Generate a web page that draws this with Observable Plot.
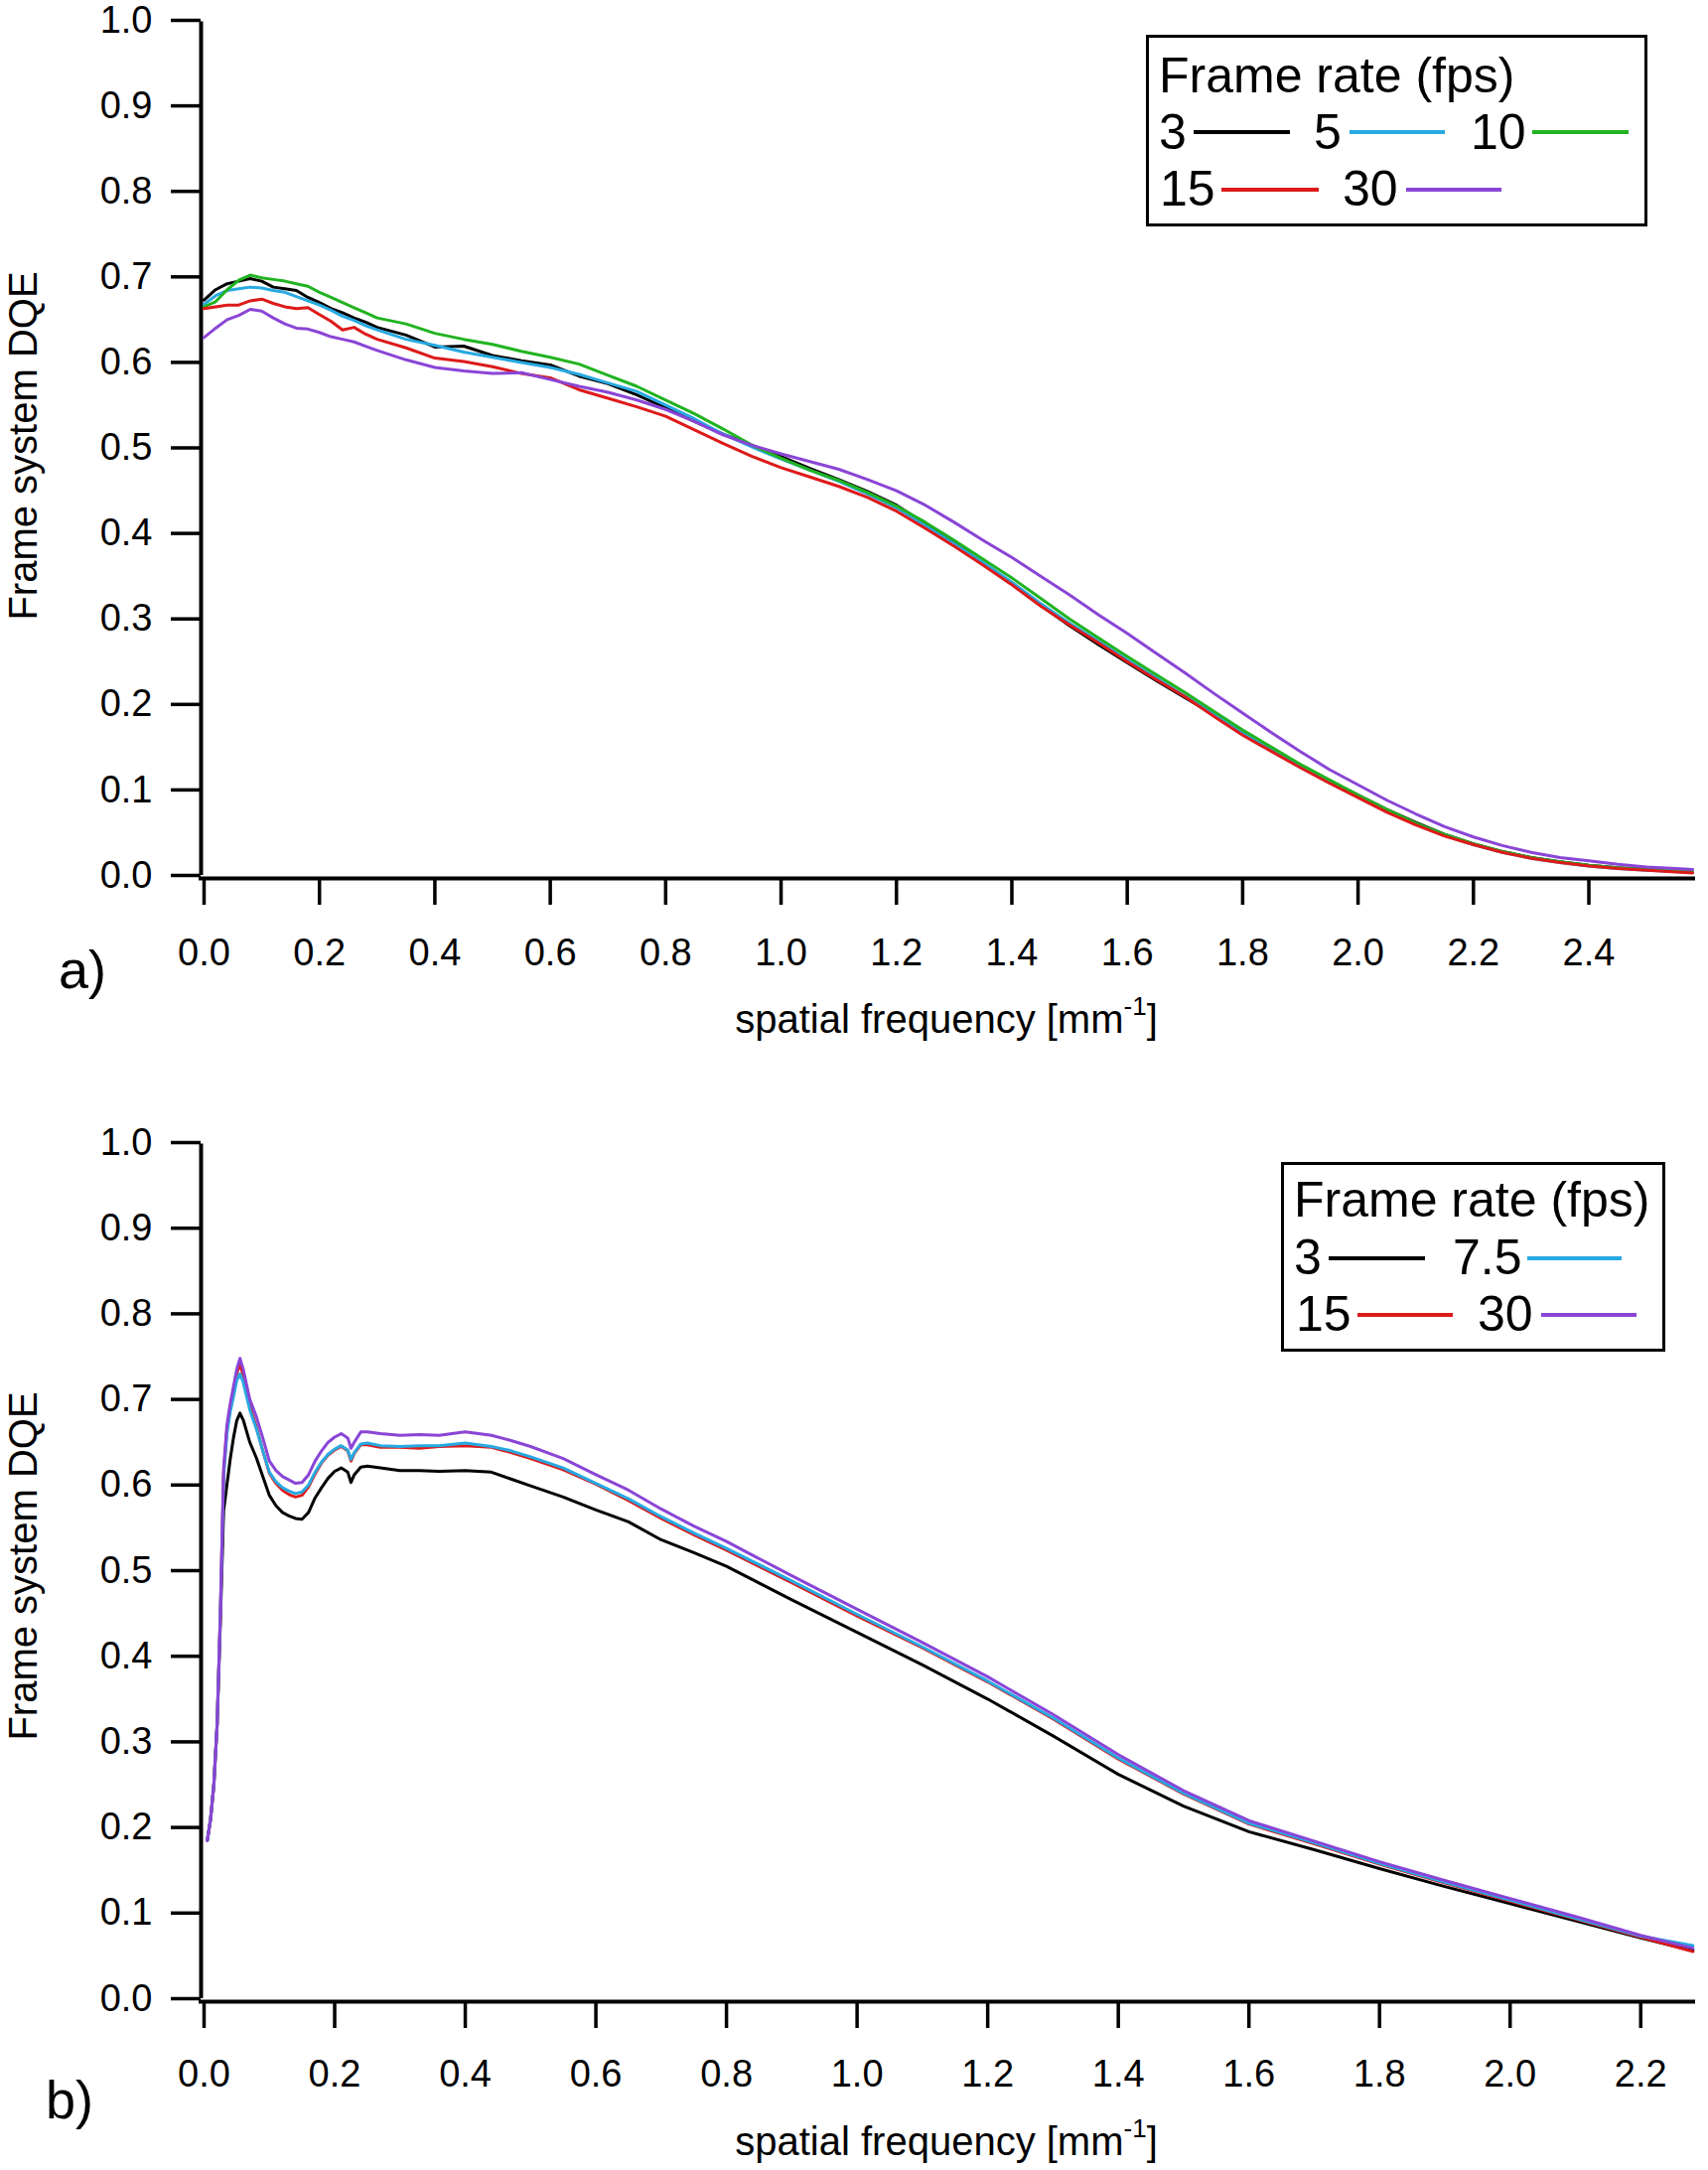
<!DOCTYPE html>
<html>
<head>
<meta charset="utf-8">
<script src="https://cdn.jsdelivr.net/npm/d3@7"></script>
<script src="https://cdn.jsdelivr.net/npm/@observablehq/plot@0.6"></script>
<style>
  body { margin: 0; background: #fff; }
  #page { position: relative; width: 1720px; height: 2185px; background: #fff;
          font-family: "Liberation Sans", Arial, Helvetica, sans-serif; color: #000; }
  .panel { position: relative; width: 1720px; }
  .panel svg { display: block; }
  .tag, .leg-text { position: absolute; line-height: 1; white-space: nowrap; }
  .leg-box { position: absolute; border: 3.5px solid #000; box-sizing: border-box; background: #fff; }
  .leg-line { position: absolute; height: 4px; }
</style>
</head>
<body>
<div id="page"></div>
<script>
// ---------- data: frame system DQE vs spatial frequency ----------

// panel a) frame rates 3, 5, 10, 15, 30 fps
const freqA = [0, 0.02, 0.04, 0.06, 0.08, 0.10, 0.12, 0.14, 0.16, 0.18,
  0.20, 0.22, 0.24, 0.26, 0.28, 0.30,
  0.35, 0.40, 0.45, 0.50, 0.55, 0.60, 0.65, 0.70, 0.75, 0.80,
  0.85, 0.90, 0.95, 1.00, 1.05, 1.10, 1.15, 1.20, 1.25, 1.30,
  1.35, 1.40, 1.45, 1.50, 1.55, 1.60, 1.65, 1.70, 1.75, 1.80,
  1.85, 1.90, 1.95, 2.00, 2.05, 2.10, 2.15, 2.20, 2.25, 2.30,
  2.35, 2.40, 2.45, 2.50, 2.55, 2.58];

const dqeA_3 = [0.673, 0.685, 0.692, 0.695, 0.698, 0.695, 0.688, 0.686, 0.684, 0.676,
  0.670, 0.663, 0.658, 0.652, 0.647, 0.641,
  0.632, 0.618, 0.619, 0.608, 0.602, 0.597, 0.584, 0.575, 0.562, 0.547,
  0.531, 0.516, 0.503, 0.490, 0.476, 0.463, 0.449, 0.433, 0.411, 0.389,
  0.365, 0.341, 0.316, 0.292, 0.270, 0.249, 0.228, 0.208, 0.188, 0.167,
  0.148, 0.129, 0.111, 0.094, 0.077, 0.062, 0.048, 0.037, 0.028, 0.021,
  0.016, 0.012, 0.009, 0.007, 0.005, 0.004];

const dqeA_5 = [0.668, 0.678, 0.684, 0.686, 0.688, 0.687, 0.684, 0.682, 0.677, 0.672,
  0.667, 0.661, 0.654, 0.649, 0.643, 0.638,
  0.627, 0.620, 0.612, 0.606, 0.600, 0.594, 0.586, 0.576, 0.566, 0.550,
  0.534, 0.516, 0.501, 0.487, 0.474, 0.461, 0.446, 0.430, 0.409, 0.388,
  0.366, 0.343, 0.318, 0.295, 0.274, 0.252, 0.231, 0.210, 0.189, 0.167,
  0.148, 0.129, 0.110, 0.093, 0.076, 0.060, 0.047, 0.036, 0.027, 0.020,
  0.015, 0.011, 0.008, 0.006, 0.005, 0.004];

const dqeA_10 = [0.665, 0.671, 0.685, 0.696, 0.702, 0.699, 0.697, 0.695, 0.692, 0.689,
  0.682, 0.676, 0.670, 0.664, 0.658, 0.652,
  0.645, 0.634, 0.627, 0.621, 0.613, 0.606, 0.598, 0.585, 0.572, 0.556,
  0.540, 0.522, 0.503, 0.488, 0.474, 0.462, 0.448, 0.432, 0.413, 0.392,
  0.370, 0.348, 0.324, 0.300, 0.278, 0.256, 0.235, 0.214, 0.192, 0.170,
  0.150, 0.130, 0.112, 0.094, 0.077, 0.061, 0.048, 0.037, 0.028, 0.021,
  0.016, 0.012, 0.009, 0.007, 0.005, 0.004];

const dqeA_15 = [0.663, 0.665, 0.667, 0.667, 0.672, 0.674, 0.669, 0.665, 0.663, 0.664,
  0.656, 0.648, 0.638, 0.641, 0.633, 0.627,
  0.617, 0.605, 0.601, 0.595, 0.587, 0.582, 0.568, 0.558, 0.548, 0.537,
  0.521, 0.505, 0.490, 0.477, 0.466, 0.455, 0.442, 0.426, 0.406, 0.385,
  0.363, 0.340, 0.315, 0.293, 0.272, 0.250, 0.229, 0.209, 0.186, 0.164,
  0.145, 0.126, 0.108, 0.091, 0.074, 0.059, 0.046, 0.036, 0.027, 0.020,
  0.015, 0.011, 0.008, 0.006, 0.004, 0.003];

const dqeA_30 = [0.629, 0.640, 0.650, 0.655, 0.662, 0.660, 0.652, 0.645, 0.640, 0.639,
  0.635, 0.630, 0.627, 0.624, 0.619, 0.614,
  0.603, 0.594, 0.590, 0.587, 0.588, 0.580, 0.572, 0.565, 0.556, 0.545,
  0.531, 0.515, 0.503, 0.493, 0.484, 0.475, 0.463, 0.450, 0.433, 0.413,
  0.392, 0.372, 0.350, 0.328, 0.305, 0.283, 0.260, 0.237, 0.213, 0.190,
  0.167, 0.145, 0.124, 0.106, 0.088, 0.072, 0.057, 0.045, 0.035, 0.027,
  0.021, 0.017, 0.013, 0.010, 0.008, 0.007];

// panel b) frame rates 3, 7.5, 15, 30 fps
const freqB = [0.005, 0.01, 0.015, 0.02, 0.025, 0.03, 0.035, 0.04, 0.045, 0.05,
  0.055, 0.06, 0.07, 0.08, 0.09, 0.10, 0.11, 0.12, 0.13, 0.14,
  0.15, 0.16, 0.17, 0.18, 0.19, 0.20, 0.21, 0.22, 0.225, 0.23,
  0.24, 0.25, 0.27, 0.30, 0.33, 0.36, 0.40, 0.44, 0.47, 0.50,
  0.55, 0.60, 0.65, 0.70, 0.75, 0.80, 0.90, 1.00, 1.10, 1.20,
  1.30, 1.40, 1.50, 1.60, 1.70, 1.80, 1.90, 2.00, 2.10, 2.20,
  2.28];

const dqeB_3 = [0.185, 0.21, 0.25, 0.32, 0.44, 0.57, 0.60, 0.63, 0.655, 0.675,
  0.684, 0.676, 0.650, 0.632, 0.610, 0.588, 0.576, 0.568, 0.564, 0.561,
  0.560, 0.568, 0.585, 0.597, 0.608, 0.616, 0.620, 0.615, 0.603, 0.612,
  0.621, 0.622, 0.620, 0.617, 0.617, 0.616, 0.617, 0.615, 0.607, 0.599,
  0.586, 0.571, 0.557, 0.536, 0.521, 0.505, 0.466, 0.428, 0.390, 0.350,
  0.307, 0.262, 0.225, 0.195, 0.174, 0.152, 0.131, 0.111, 0.091, 0.071,
  0.056];

const dqeB_7_5 = [0.185, 0.21, 0.25, 0.32, 0.45, 0.61, 0.66, 0.685, 0.703, 0.722,
  0.730, 0.720, 0.688, 0.666, 0.640, 0.615, 0.604, 0.597, 0.593, 0.590,
  0.592, 0.600, 0.615, 0.627, 0.636, 0.642, 0.646, 0.641, 0.630, 0.638,
  0.648, 0.649, 0.646, 0.645, 0.646, 0.646, 0.649, 0.645, 0.640, 0.633,
  0.620, 0.602, 0.584, 0.563, 0.544, 0.526, 0.488, 0.449, 0.411, 0.371,
  0.328, 0.281, 0.240, 0.205, 0.182, 0.158, 0.136, 0.115, 0.094, 0.073,
  0.062];

const dqeB_15 = [0.185, 0.21, 0.25, 0.32, 0.45, 0.615, 0.665, 0.69, 0.71, 0.73,
  0.742, 0.728, 0.692, 0.668, 0.640, 0.614, 0.602, 0.594, 0.589, 0.586,
  0.588, 0.598, 0.613, 0.626, 0.635, 0.641, 0.645, 0.640, 0.628, 0.637,
  0.647, 0.647, 0.644, 0.644, 0.643, 0.645, 0.646, 0.644, 0.638, 0.631,
  0.618, 0.601, 0.582, 0.561, 0.542, 0.524, 0.486, 0.447, 0.410, 0.370,
  0.327, 0.280, 0.239, 0.204, 0.181, 0.157, 0.135, 0.114, 0.093, 0.072,
  0.055];

const dqeB_30 = [0.185, 0.21, 0.25, 0.32, 0.45, 0.62, 0.67, 0.695, 0.715, 0.735,
  0.748, 0.735, 0.700, 0.680, 0.655, 0.628, 0.617, 0.610, 0.606, 0.602,
  0.603, 0.612, 0.628, 0.640, 0.650, 0.656, 0.660, 0.655, 0.643, 0.650,
  0.662, 0.662, 0.660, 0.658, 0.659, 0.658, 0.662, 0.658, 0.652, 0.645,
  0.631, 0.612, 0.594, 0.572, 0.552, 0.534, 0.494, 0.455, 0.416, 0.376,
  0.332, 0.285, 0.243, 0.208, 0.184, 0.160, 0.138, 0.117, 0.096, 0.074,
  0.059];

// tick values
const yTicks = [0, 0.1, 0.2, 0.3, 0.4, 0.5, 0.6, 0.7, 0.8, 0.9, 1.0];
const xTicksA = [0, 0.2, 0.4, 0.6, 0.8, 1.0, 1.2, 1.4, 1.6, 1.8, 2.0, 2.2, 2.4];
const xTicksB = [0, 0.2, 0.4, 0.6, 0.8, 1.0, 1.2, 1.4, 1.6, 1.8, 2.0, 2.2];

// frame-rate labels per panel
const ratesA = ["3", "5", "10", "15", "30"];
const ratesB = ["3", "7.5", "15", "30"];

// ---------- styling ----------
const FONT = '"Liberation Sans", Arial, Helvetica, sans-serif';
const rateColor = {"3": "#000000", "5": "#27a9e1", "7.5": "#27a9e1", "10": "#21b321", "15": "#dd1a1a", "30": "#8a45d6"};

const panelA = {
  rates: ratesA, values: [dqeA_3, dqeA_5, dqeA_10, dqeA_15, dqeA_30], freq: freqA,
  xMax: 2.585, xTicks: xTicksA, height: 1090, marginTop: 20, marginBottom: 209, labelPad: 34,
  xTitleBaseline: 1040, yTitleCenter: 449,
  tag: {text: "a)", left: 59, baseline: 995},
  legend: {
    box: {left: 1154, top: 35, width: 505, height: 193},
    title: {left: 1167, baseline: 93},
    items: [
      {left: 1167, baseline: 150, line: [1202, 1299], y: 133},
      {left: 1323, baseline: 150, line: [1359, 1455], y: 133},
      {left: 1481, baseline: 150, line: [1543, 1640], y: 133},
      {left: 1168, baseline: 207, line: [1230, 1328], y: 191},
      {left: 1352, baseline: 207, line: [1416, 1512], y: 191}
    ]
  }
};

const panelB = {
  rates: ratesB, values: [dqeB_3, dqeB_15, dqeB_7_5, dqeB_30], order: ["3", "15", "7.5", "30"], freq: freqB,
  xMax: 2.284, xTicks: xTicksB, height: 1095, marginTop: 60, marginBottom: 173, labelPad: 32,
  xTitleBaseline: 1080, yTitleCenter: 487,
  tag: {text: "b)", left: 46, baseline: 1043},
  legend: {
    box: {left: 1290, top: 80, width: 387, height: 191},
    title: {left: 1303, baseline: 135},
    items: [
      {left: 1303, baseline: 193, line: [1338, 1435], y: 177},
      {left: 1463, baseline: 193, line: [1538, 1633], y: 177},
      {left: 1305, baseline: 250, line: [1367, 1463], y: 234},
      {left: 1488, baseline: 250, line: [1552, 1648], y: 234}
    ]
  }
};

function buildPanel(cfg) {
  const order = cfg.order || cfg.rates;
  const valuesByRate = {};
  order.forEach((r, i) => { valuesByRate[r] = cfg.values[i]; });
  const rows = order.flatMap(rate => cfg.freq.map((f, i) => ({f, v: valuesByRate[rate][i], rate})));
  const fmt = d3.format(".1f");

  const svg = Plot.plot({
    width: 1720,
    height: cfg.height,
    marginLeft: 205,
    marginRight: 13,
    marginTop: cfg.marginTop,
    marginBottom: cfg.marginBottom,
    style: {fontFamily: FONT, fontSize: "38px", color: "#000", background: "#fff", overflow: "visible"},
    x: {domain: [0, cfg.xMax]},
    y: {domain: [0, 1]},
    color: {domain: order, range: order.map(r => rateColor[r])},
    marks: [
      Plot.ruleX([0], {y1: 0, y2: 1, dx: -3, strokeWidth: 4, insetBottom: -1.5}),
      Plot.ruleY([0], {x1: 0, x2: cfg.xMax, dy: 3, strokeWidth: 4, insetLeft: -5}),
      Plot.axisY(yTicks, {tickFormat: fmt, tickSize: 30, tickPadding: 19, strokeWidth: 3.5, dx: -3, label: null}),
      Plot.axisX(cfg.xTicks, {tickFormat: fmt, tickSize: 27, tickPadding: cfg.labelPad, strokeWidth: 3.5, dy: 3, label: null}),
      Plot.line(rows, {x: "f", y: "v", z: "rate", stroke: "rate", strokeWidth: 3, strokeLinejoin: "round"})
    ]
  });

  // axis titles
  const s = d3.select(svg);
  const xt = s.append("text")
    .attr("x", 953).attr("y", cfg.xTitleBaseline)
    .attr("text-anchor", "middle")
    .attr("font-family", FONT).attr("font-size", 40).attr("fill", "#000");
  xt.append("tspan").text("spatial frequency [mm");
  xt.append("tspan").attr("font-size", 26).attr("dy", -18).text("-1");
  xt.append("tspan").attr("dy", 18).text("]");

  s.append("text")
    .attr("transform", `translate(37,${cfg.yTitleCenter}) rotate(-90)`)
    .attr("text-anchor", "middle")
    .attr("font-family", FONT).attr("font-size", 40).attr("fill", "#000")
    .text("Frame system DQE");

  const div = document.createElement("div");
  div.className = "panel";
  div.appendChild(svg);

  const place = (el, left, top) => { el.style.left = left + "px"; el.style.top = top + "px"; div.appendChild(el); };

  // panel tag
  const tag = document.createElement("div");
  tag.className = "tag";
  tag.style.fontSize = "54px";
  tag.textContent = cfg.tag.text;
  place(tag, cfg.tag.left, cfg.tag.baseline - 0.8465 * 54);

  // legend
  const L = cfg.legend;
  const box = document.createElement("div");
  box.className = "leg-box";
  box.style.width = L.box.width + "px";
  box.style.height = L.box.height + "px";
  place(box, L.box.left, L.box.top);

  const legFs = 50;
  const addText = (txt, left, baseline) => {
    const t = document.createElement("div");
    t.className = "leg-text";
    t.style.fontSize = legFs + "px";
    t.textContent = txt;
    place(t, left, baseline - 0.8465 * legFs);
  };
  addText("Frame rate (fps)", L.title.left, L.title.baseline);
  cfg.rates.forEach((rate, i) => {
    const it = L.items[i];
    addText(rate, it.left, it.baseline);
    const ln = document.createElement("div");
    ln.className = "leg-line";
    ln.style.width = (it.line[1] - it.line[0]) + "px";
    ln.style.background = rateColor[rate];
    place(ln, it.line[0], it.y - 2);
  });

  return div;
}

const page = document.getElementById("page");
page.appendChild(buildPanel(panelA));
page.appendChild(buildPanel(panelB));
</script>
</body>
</html>
